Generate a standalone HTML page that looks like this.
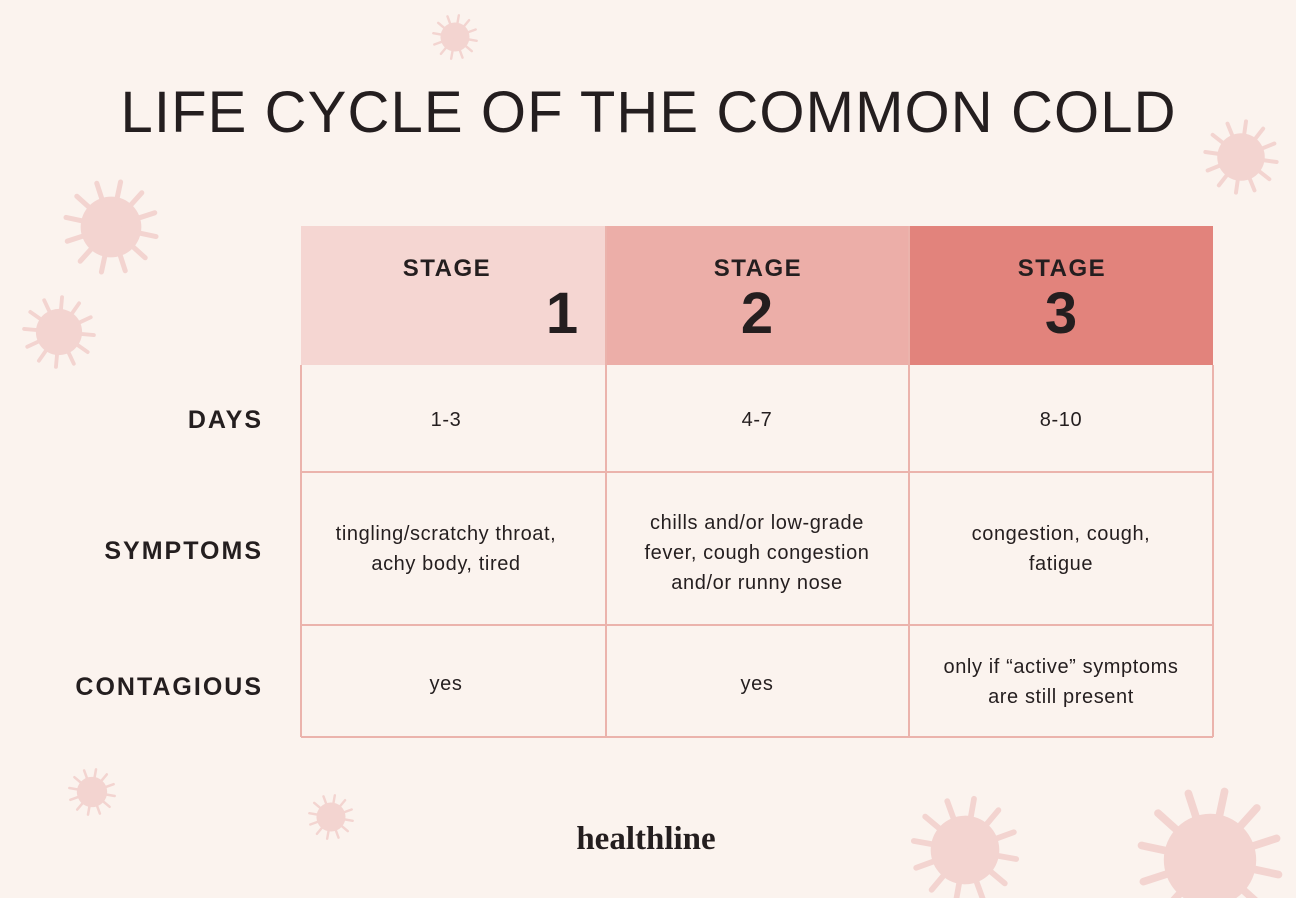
<!DOCTYPE html>
<html><head><meta charset="utf-8"><style>
html,body{margin:0;padding:0;background:#fbf3ee;width:1296px;height:898px;overflow:hidden}
svg{display:block}
text{font-family:"Liberation Sans",sans-serif;fill:#241e1f}
.lab{font-weight:bold;font-size:25px;letter-spacing:2px;text-anchor:end}
.cell{font-size:20px;text-anchor:middle;letter-spacing:0.6px}
.st{font-weight:bold;font-size:24px;text-anchor:middle;letter-spacing:1.5px}
.num{font-weight:bold;font-size:58px;text-anchor:middle}
</style></head><body>
<svg width="1296" height="898" viewBox="0 0 1296 898" xmlns="http://www.w3.org/2000/svg">
<defs>
<clipPath id="c"><rect width="1296" height="898"/></clipPath>
<g id="v">
<circle r="0.66" fill="#f3d4d0"/>
<g stroke="#f3d4d0" stroke-width="0.11" stroke-linecap="round">
<line x1="0" y1="0" x2="0" y2="-1" transform="rotate(0)"/>
<line x1="0" y1="0" x2="0" y2="-1" transform="rotate(30)"/>
<line x1="0" y1="0" x2="0" y2="-1" transform="rotate(60)"/>
<line x1="0" y1="0" x2="0" y2="-1" transform="rotate(90)"/>
<line x1="0" y1="0" x2="0" y2="-1" transform="rotate(120)"/>
<line x1="0" y1="0" x2="0" y2="-1" transform="rotate(150)"/>
<line x1="0" y1="0" x2="0" y2="-1" transform="rotate(180)"/>
<line x1="0" y1="0" x2="0" y2="-1" transform="rotate(210)"/>
<line x1="0" y1="0" x2="0" y2="-1" transform="rotate(240)"/>
<line x1="0" y1="0" x2="0" y2="-1" transform="rotate(270)"/>
<line x1="0" y1="0" x2="0" y2="-1" transform="rotate(300)"/>
<line x1="0" y1="0" x2="0" y2="-1" transform="rotate(330)"/>
</g>
</g>
</defs>
<rect width="1296" height="898" fill="#fbf3ee"/>
<g clip-path="url(#c)">
<use href="#v" transform="translate(455,37) scale(22) rotate(10)"/>
<use href="#v" transform="translate(1241,157) scale(36) rotate(8)"/>
<use href="#v" transform="translate(111,227) scale(46) rotate(12)"/>
<use href="#v" transform="translate(59,332) scale(35) rotate(5)"/>
<use href="#v" transform="translate(92,792) scale(23) rotate(10)"/>
<use href="#v" transform="translate(331,817) scale(22) rotate(10)"/>
<use href="#v" transform="translate(965,850) scale(52) rotate(10)"/>
<use href="#v" transform="translate(1210,860) scale(70) rotate(12)"/>
</g>

<text x="648" y="132" text-anchor="middle" font-size="58" textLength="1055" lengthAdjust="spacing">LIFE CYCLE OF THE COMMON COLD</text>

<rect x="301" y="226" width="305" height="139" fill="#f5d6d2"/>
<rect x="606" y="226" width="303" height="139" fill="#ecaea8"/>
<rect x="909" y="226" width="304" height="139" fill="#e2837c"/>

<g stroke="#ebb3ac" stroke-width="2" fill="none">
<line x1="301" y1="365" x2="301" y2="737"/>
<line x1="606" y1="226" x2="606" y2="737"/>
<line x1="909" y1="226" x2="909" y2="737"/>
<line x1="1213" y1="365" x2="1213" y2="737"/>
<line x1="301" y1="472" x2="1213" y2="472"/>
<line x1="301" y1="625" x2="1213" y2="625"/>
<line x1="301" y1="737" x2="1213" y2="737"/>
</g>

<text class="st" x="447" y="276">STAGE</text>
<text class="num" x="562" y="333">1</text>
<text class="st" x="758" y="276">STAGE</text>
<text class="num" x="757" y="333">2</text>
<text class="st" x="1062" y="276">STAGE</text>
<text class="num" x="1061" y="333">3</text>

<text class="lab" x="263" y="428">DAYS</text>
<text class="lab" x="263" y="559">SYMPTOMS</text>
<text class="lab" x="263" y="695">CONTAGIOUS</text>

<text class="cell" x="446" y="426">1-3</text>
<text class="cell" x="757" y="426">4-7</text>
<text class="cell" x="1061" y="426">8-10</text>

<text class="cell" x="446" y="540">tingling/scratchy throat,</text>
<text class="cell" x="446" y="570">achy body, tired</text>
<text class="cell" x="757" y="529">chills and/or low-grade</text>
<text class="cell" x="757" y="559">fever, cough congestion</text>
<text class="cell" x="757" y="589">and/or runny nose</text>
<text class="cell" x="1061" y="540">congestion, cough,</text>
<text class="cell" x="1061" y="570">fatigue</text>

<text class="cell" x="446" y="690">yes</text>
<text class="cell" x="757" y="690">yes</text>
<text class="cell" x="1061" y="673">only if “active” symptoms</text>
<text class="cell" x="1061" y="703">are still present</text>

<text x="646" y="849" text-anchor="middle" font-weight="bold" font-size="33" style="font-family:'Liberation Serif',serif">healthline</text>
</svg>
</body></html>
